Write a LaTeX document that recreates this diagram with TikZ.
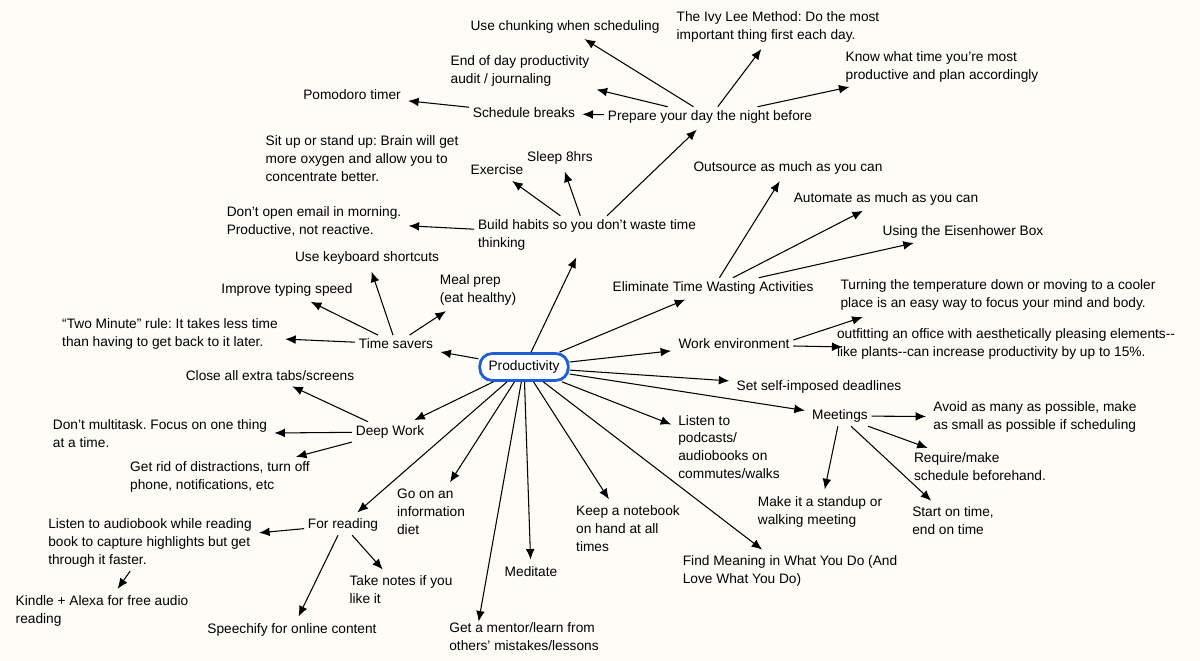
\documentclass[tikz,border=0pt]{standalone}
\usepackage{fontspec}
\setmainfont{Liberation Sans}
\usetikzlibrary{arrows.meta}
\definecolor{paper}{HTML}{FDFCF7}
\definecolor{ringblue}{HTML}{1F5FD6}
\frenchspacing
\begin{document}
\begin{tikzpicture}[
            x=0.02cm, y=-0.02cm,
            every node/.style={font=\fontsize{7.8}{10.2}\selectfont, inner sep=2pt},
            txt/.style={align=left},
            hub/.style={rectangle, rounded corners=7pt, draw=ringblue, line width=1.6pt, fill=white, inner xsep=5pt, inner ysep=4pt},
            arrow/.style={-{Latex[length=6pt,width=5pt]}, semithick, shorten >=2pt}
        ]
        \fill[paper] (0,0) rectangle (1200,661);

        \node[hub] (prod) at (524,367) {Productivity};

        % top branch
        \node (prepare) at (710,117) {Prepare your day the night before};
        \node (chunk) at (565,27) {Use chunking when scheduling};
        \node[txt] (ivy) at (778,27) {The Ivy Lee Method: Do the most\\important thing first each day.};
        \node[txt] (know) at (942,67) {Know what time you’re most\\productive and plan accordingly};
        \node[txt] (audit) at (520,71) {End of day productivity\\audit / journaling};
        \node (breaks) at (524,113) {Schedule breaks};
        \node (pomo) at (352,95) {Pomodoro timer};

        \node[txt] (habits) at (587,235) {Build habits so you don’t waste time\\thinking};
        \node[txt] (situp) at (362,159) {Sit up or stand up: Brain will get\\more oxygen and allow you to\\concentrate better.};
        \node (exercise) at (497,170) {Exercise};
        \node (sleep) at (560,158) {Sleep 8hrs};
        \node[txt] (email) at (314,221) {Don’t open email in morning.\\Productive, not reactive.};

        % right branch
        \node (eliminate) at (713,288) {Eliminate Time Wasting Activities};
        \node (outsource) at (788,168) {Outsource as much as you can};
        \node (automate) at (886,199) {Automate as much as you can};
        \node (eisen) at (963,232) {Using the Eisenhower Box};

        \node (workenv) at (734,344) {Work environment};
        \node[txt] (temp) at (998,295) {Turning the temperature down or moving to a cooler\\place is an easy way to focus your mind and body.};
        \node[txt] (outfit) at (1006,344) {outfitting an office with aesthetically pleasing elements-{}-\\like plants-{}-can increase productivity by up to 15\%.};
        \coordinate (tempin) at (866,316);
        \coordinate (outfitin) at (846,347);
        \node (deadlines) at (819,387) {Set self-imposed deadlines};

        \node (meetings) at (840,416) {Meetings};
        \node[txt] (avoid) at (1035,417) {Avoid as many as possible, make\\as small as possible if scheduling};
        \node[txt] (require) at (980,467) {Require/make\\schedule beforehand.};
        \node[txt] (standup) at (820,512) {Make it a standup or\\walking meeting};
        \node[txt] (ontime) at (953,521) {Start on time,\\end on time};

        % bottom branch
        \node[txt] (podcasts) at (729,447) {Listen to\\podcasts/\\audiobooks on\\commutes/walks};
        \node[txt] (meaning) at (790,571) {Find Meaning in What You Do (And\\Love What You Do)};
        \node[txt] (notebook) at (628,529) {Keep a notebook\\on hand at all\\times};
        \node (meditate) at (531,572) {Meditate};
        \node[txt] (mentor) at (524,637) {Get a mentor/learn from\\others’ mistakes/lessons};
        \coordinate (mentorin) at (478,625);
        \node[txt] (diet) at (431,512) {Go on an\\information\\diet};

        \node (reading) at (343,525) {For reading};
        \node[txt] (takenotes) at (401,590) {Take notes if you\\like it};
        \node (speechify) at (292,630) {Speechify for online content};
        \node[txt] (audiobook) at (150,543) {Listen to audiobook while reading\\book to capture highlights but get\\through it faster.};
        \node[txt] (kindle) at (102,611) {Kindle + Alexa for free audio\\reading};

        % left branch
        \node (deepwork) at (390,432) {Deep Work};
        \node (closetabs) at (270,376) {Close all extra tabs/screens};
        \node[txt] (multitask) at (160,434) {Don’t multitask. Focus on one thing\\at a time.};
        \node[txt] (distract) at (220,477) {Get rid of distractions, turn off\\phone, notifications, etc};

        \node (timesavers) at (396,344) {Time savers};
        \node[txt] (twomin) at (170,334) {“Two Minute” rule: It takes less time\\than having to get back to it later.};
        \node (typing) at (287,290) {Improve typing speed};
        \node (keyboard) at (367,258) {Use keyboard shortcuts};
        \node[txt] (meal) at (478,290) {Meal prep\\(eat healthy)};

        \foreach \t in {habits, eliminate, workenv, deadlines, meetings, podcasts, meaning,
                        notebook, meditate, diet, reading, deepwork, timesavers}
            \draw[arrow] (prod) -- (\t);
        \draw[arrow] (prod) -- (mentorin);
        \foreach \t in {chunk, ivy, know, audit, breaks}
            \draw[arrow] (prepare) -- (\t);
        \draw[arrow] (breaks) -- (pomo);
        \draw[arrow] (habits) -- (prepare);
        \foreach \t in {exercise, sleep, email}
            \draw[arrow] (habits) -- (\t);
        \foreach \t in {outsource, automate, eisen}
            \draw[arrow] (eliminate) -- (\t);
        \draw[arrow] (workenv.east) ++(0,-4) -- (tempin);
        \draw[arrow] (workenv.east) ++(0,2) -- (outfitin);
        \foreach \t in {avoid, require, standup, ontime}
            \draw[arrow] (meetings) -- (\t);
        \foreach \t in {audiobook, takenotes, speechify}
            \draw[arrow] (reading) -- (\t);
        \draw[arrow] (audiobook) -- (kindle);
        \foreach \t in {closetabs, multitask, distract}
            \draw[arrow] (deepwork) -- (\t);
        \foreach \t in {twomin, typing, keyboard, meal}
            \draw[arrow] (timesavers) -- (\t);

    \end{tikzpicture}
\end{document}
